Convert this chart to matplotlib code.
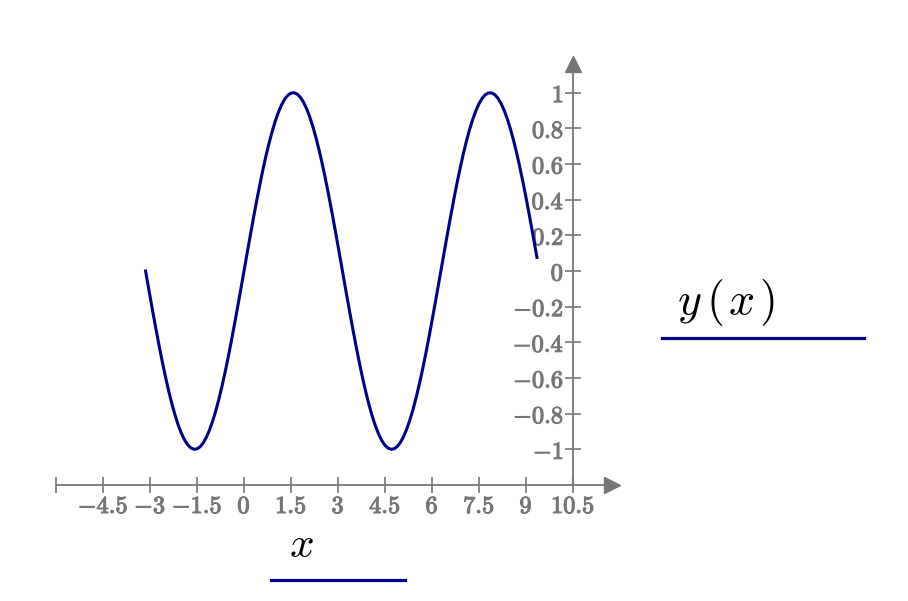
import matplotlib.pyplot as plt
import matplotlib.patheffects as pe
from matplotlib.ticker import FixedLocator, FuncFormatter

plt.rcParams['mathtext.fontset'] = 'cm'

# ── DATOS ─────────────────────────────────────────────────────────────────────
x_vals = [-3.14, -3.1, -3.0, -2.9, -2.8, -2.7, -2.6, -2.5, -2.4, -2.3, -2.2,
          -2.1, -2.0, -1.9, -1.8, -1.7, -1.6, -1.5, -1.4, -1.3, -1.2, -1.1,
          -1.0, -0.9, -0.8, -0.7, -0.6, -0.5, -0.4, -0.3, -0.2, -0.1,
          0.0, 0.1, 0.2, 0.3, 0.4, 0.5, 0.6, 0.7, 0.8, 0.9,
          1.0, 1.1, 1.2, 1.3, 1.4, 1.5, 1.6, 1.7, 1.8, 1.9,
          2.0, 2.1, 2.2, 2.3, 2.4, 2.5, 2.6, 2.7, 2.8, 2.9,
          3.0, 3.1, 3.2, 3.3, 3.4, 3.5, 3.6, 3.7, 3.8, 3.9,
          4.0, 4.1, 4.2, 4.3, 4.4, 4.5, 4.6, 4.7, 4.8, 4.9,
          5.0, 5.1, 5.2, 5.3, 5.4, 5.5, 5.6, 5.7, 5.8, 5.9,
          6.0, 6.1, 6.2, 6.3, 6.4, 6.5, 6.6, 6.7, 6.8, 6.9,
          7.0, 7.1, 7.2, 7.3, 7.4, 7.5, 7.6, 7.7, 7.8, 7.9,
          8.0, 8.1, 8.2, 8.3, 8.4, 8.5, 8.6, 8.7, 8.8, 8.9,
          9.0, 9.1, 9.2, 9.3, 9.35]
y_vals = [0.0, -0.0416, -0.1411, -0.2392, -0.3350, -0.4274, -0.5155, -0.5985,
          -0.6755, -0.7457, -0.8085, -0.8632, -0.9093, -0.9463, -0.9738,
          -0.9917, -0.9996, -0.9975, -0.9854, -0.9636, -0.9320, -0.8912,
          -0.8415, -0.7833, -0.7174, -0.6442, -0.5646, -0.4794, -0.3894,
          -0.2955, -0.1987, -0.0998,
          0.0, 0.0998, 0.1987, 0.2955, 0.3894, 0.4794, 0.5646, 0.6442, 0.7174,
          0.7833, 0.8415, 0.8912, 0.9320, 0.9636, 0.9854, 0.9975, 0.9996,
          0.9917, 0.9738, 0.9463, 0.9093, 0.8632, 0.8085, 0.7457, 0.6755,
          0.5985, 0.5155, 0.4274, 0.3350, 0.2392, 0.1411, 0.0416,
          -0.0584, -0.1577, -0.2555, -0.3508, -0.4425, -0.5298, -0.6119,
          -0.6878, -0.7568, -0.8183, -0.8716, -0.9162, -0.9516, -0.9775,
          -0.9937, -0.9999, -0.9962, -0.9825, -0.9589, -0.9258, -0.8835,
          -0.8323, -0.7728, -0.7055, -0.6313, -0.5507, -0.4646, -0.3739,
          -0.2794, -0.1822, -0.0831,
          0.0168, 0.1165, 0.2151, 0.3115, 0.4048, 0.4941, 0.5784, 0.6570,
          0.7290, 0.7937, 0.8504, 0.8987, 0.9380, 0.9679, 0.9882, 0.9985,
          0.9989, 0.9894, 0.9699, 0.9407, 0.9022, 0.8546, 0.7985, 0.7344,
          0.6630, 0.5849, 0.5010, 0.4121, 0.3191, 0.2229, 0.1245, 0.0761]

x_ticks = [-6, -4.5, -3, -1.5, 0, 1.5, 3, 4.5, 6, 7.5, 9, 10.5]
x_labels = ['', '-4.5', '-3', '-1.5', '0', '1.5', '3', '4.5', '6', '7.5', '9', '10.5']
y_ticks = [-1, -0.8, -0.6, -0.4, -0.2, 0, 0.2, 0.4, 0.6, 0.8, 1]
y_labels = ['-1', '-0.8', '-0.6', '-0.4', '-0.2', '0', '0.2', '0.4', '0.6', '0.8', '1']

GRIS = '#767676'
AZUL = '#00008B'

# ── FIGURA ────────────────────────────────────────────────────────────────────
fig = plt.figure(figsize=(9.08, 6.01), dpi=100)
ax = fig.add_axes([56 / 908, 1 - 485 / 601, 564 / 908, 428 / 601])
ax.set_xlim(-6, 12)
ax.set_ylim(-1.2, 1.2)

ax.plot(x_vals, y_vals, color=AZUL, lw=2.2, clip_on=False, zorder=3,
        solid_joinstyle='round')

# ejes cruzados al estilo Mathcad
for s in ['top', 'right']:
    ax.spines[s].set_visible(False)
ax.spines['left'].set_position(('data', 10.5))
ax.spines['bottom'].set_position(('data', -1.2))
ax.spines['left'].set_bounds(-1.2, 1.12)
ax.spines['bottom'].set_bounds(-6, 11.6)
for s in ['left', 'bottom']:
    ax.spines[s].set_color(GRIS)
    ax.spines[s].set_linewidth(1.3)

ax.plot([11.75], [-1.2], marker='>', color=GRIS, markersize=11, clip_on=False)
ax.plot([10.5], [1.16], marker='^', color=GRIS, markersize=11, clip_on=False)

ax.xaxis.set_major_locator(FixedLocator(x_ticks))
ax.yaxis.set_major_locator(FixedLocator(y_ticks))
ax.xaxis.set_major_formatter(FuncFormatter(
    lambda v, p: '' if x_labels[p] == '' else '$' + x_labels[p] + '$'))
ax.yaxis.set_major_formatter(FuncFormatter(
    lambda v, p: '$' + y_labels[p] + '$'))
ax.tick_params(direction='inout', length=11, width=1.2, color=GRIS,
               labelcolor=GRIS, labelsize=17.5, pad=1)

# trazo extra para simular la negrita de las etiquetas
negrita = [pe.withStroke(linewidth=0.8, foreground=GRIS)]
for lab in ax.get_xticklabels() + ax.get_yticklabels():
    lab.set_path_effects(negrita)

# etiquetas con subrayado
fig.text(301 / 908, 1 - 545 / 601, r'$x$', fontsize=31, ha='center', va='center')
fig.add_artist(plt.Line2D([271 / 908, 405 / 908], [1 - 580 / 601] * 2,
                          color=AZUL, lw=2.3))
fig.text(726 / 908, 1 - 303 / 601, r'$y\,(\!\;x\!\;)$', fontsize=33,
         ha='center', va='center')
fig.add_artist(plt.Line2D([662 / 908, 864 / 908], [1 - 338 / 601] * 2,
                          color=AZUL, lw=2.3))

fig.savefig('out.png', dpi=100)
